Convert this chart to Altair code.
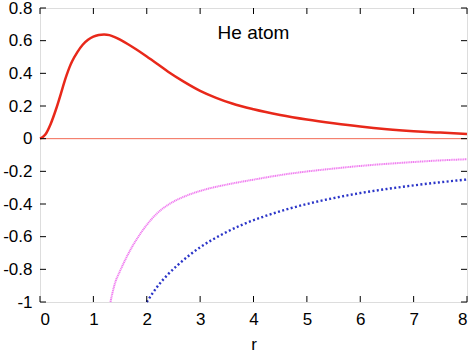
import altair as alt
import pandas as pd

# Red curve (solid)
r_red = [0.0, 0.1, 0.2, 0.3, 0.4, 0.45, 0.5, 0.55, 0.6, 0.7, 0.8, 0.9, 1.0, 1.1, 1.2, 1.3, 1.4, 1.5,
         1.65, 1.8, 2.0, 2.2, 2.4, 2.7, 3.0, 3.3, 3.6, 4.0, 4.5, 5.0, 5.5, 6.0, 6.5, 7.0, 7.5, 8.0]
v_red = [0.0, 0.025, 0.09, 0.18, 0.285, 0.34, 0.39, 0.435, 0.472, 0.53, 0.575, 0.605, 0.625, 0.635, 0.638, 0.634, 0.622, 0.606,
         0.578, 0.547, 0.503, 0.457, 0.41, 0.348, 0.293, 0.25, 0.215, 0.18, 0.145, 0.117, 0.094, 0.074, 0.058, 0.046, 0.037, 0.029]

# Magenta dotted curve
r_mag = [1.32, 1.4, 1.5, 1.6, 1.7, 1.8, 1.9, 2.0, 2.2, 2.4, 2.7, 3.0, 3.5, 4.0, 4.5, 5.0,
         5.5, 6.0, 6.5, 7.0, 7.5, 8.0]
v_mag = [-1.0, -0.89, -0.81, -0.74, -0.677, -0.622, -0.572, -0.528, -0.455, -0.405, -0.355, -0.32, -0.281, -0.251, -0.223, -0.201,
         -0.183, -0.167, -0.154, -0.143, -0.133, -0.126]

# Blue dotted curve
r_blue = [2.0, 2.2, 2.4, 2.6, 2.8, 3.0, 3.4, 3.8, 4.2, 4.6, 5.0, 5.5, 6.0, 6.5, 7.0, 7.5, 8.0]
v_blue = [-1.0, -0.905, -0.83, -0.768, -0.713, -0.665, -0.588, -0.525, -0.476, -0.435, -0.40, -0.364, -0.333, -0.308, -0.286, -0.267, -0.25]

x_ticks = [0, 1, 2, 3, 4, 5, 6, 7, 8]
y_ticks = [-1, -0.8, -0.6, -0.4, -0.2, 0, 0.2, 0.4, 0.6, 0.8]
title_text = "He atom"

W, H = 427, 294
FONT = "Liberation Sans"
TL = 6

red = pd.DataFrame({"r": r_red, "v": v_red})
mag = pd.DataFrame({"r": r_mag, "v": v_mag})
blue = pd.DataFrame({"r": r_blue, "v": v_blue})
xt = pd.DataFrame({"r": x_ticks})
yt = pd.DataFrame({"v": y_ticks})

xs = alt.Scale(domain=[0, 8], nice=False, zero=False)
ys = alt.Scale(domain=[-1, 0.8], nice=False, zero=False)

xax = alt.Axis(values=x_ticks, tickSize=0, domain=False, grid=False, labelFont=FONT,
               labelFontSize=17, labelColor="black", labelPadding=9, labelOverlap=False,
               title="r", titleFont=FONT, titleFontSize=17, titleFontWeight="normal",
               titleColor="black", titlePadding=9,
               labelExpr="toString(datum.value)")
yax = alt.Axis(values=y_ticks, tickSize=0, domain=False, grid=False, labelFont=FONT,
               labelFontSize=17, labelColor="black", labelPadding=8, title=None,
               labelOverlap=False, labelBound=False,
               labelExpr="toString(datum.value)")

X = alt.X("r:Q", scale=xs, axis=xax)
Y = alt.Y("v:Q", scale=ys, axis=yax)

zero_line = alt.Chart(pd.DataFrame({"r": [0], "r2": [8], "v": [0]})).mark_rule(
    color="#f26a55", strokeWidth=1).encode(x=X, x2="r2:Q", y=Y)

red_line = alt.Chart(red).mark_line(color="#e8281a", strokeWidth=2.5, interpolate="monotone").encode(
    x=X, y=Y)
mag_line = alt.Chart(mag).mark_line(color="#f07ef0", strokeWidth=2, strokeDash=[1.2, 0.6],
                                    interpolate="monotone").encode(x=X, y=Y)
blue_line = alt.Chart(blue).mark_line(color="#2b35c8", strokeWidth=2.4, strokeDash=[2, 2.4],
                                      interpolate="monotone").encode(x=X, y=Y)

tick_b = alt.Chart(xt).mark_rule(color="black", strokeWidth=1).encode(
    x=X, y=alt.value(H), y2=alt.value(H - TL))
tick_t = alt.Chart(xt).mark_rule(color="black", strokeWidth=1).encode(
    x=X, y=alt.value(0), y2=alt.value(TL))
tick_l = alt.Chart(yt).mark_rule(color="black", strokeWidth=1).encode(
    y=Y, x=alt.value(0), x2=alt.value(TL))
tick_r = alt.Chart(yt).mark_rule(color="black", strokeWidth=1).encode(
    y=Y, x=alt.value(W), x2=alt.value(W - TL))

label = alt.Chart(pd.DataFrame({"s": [title_text]})).mark_text(
    font=FONT, fontSize=19, color="black", align="center", baseline="middle").encode(
    x=X, y=Y, text="s:N"
).transform_calculate(r="4.0", v="0.645")

chart = alt.layer(red_line, zero_line, mag_line, blue_line, tick_b, tick_t, tick_l, tick_r, label).properties(
    width=W, height=H,
    padding={"left": 40, "top": 8, "right": 7, "bottom": 51},
    autosize=alt.AutoSizeParams(type="none"),
).configure_view(stroke="black", strokeWidth=1.2).configure(background="white")

chart.save("out.html", embed_options={"renderer": "svg", "actions": False})
